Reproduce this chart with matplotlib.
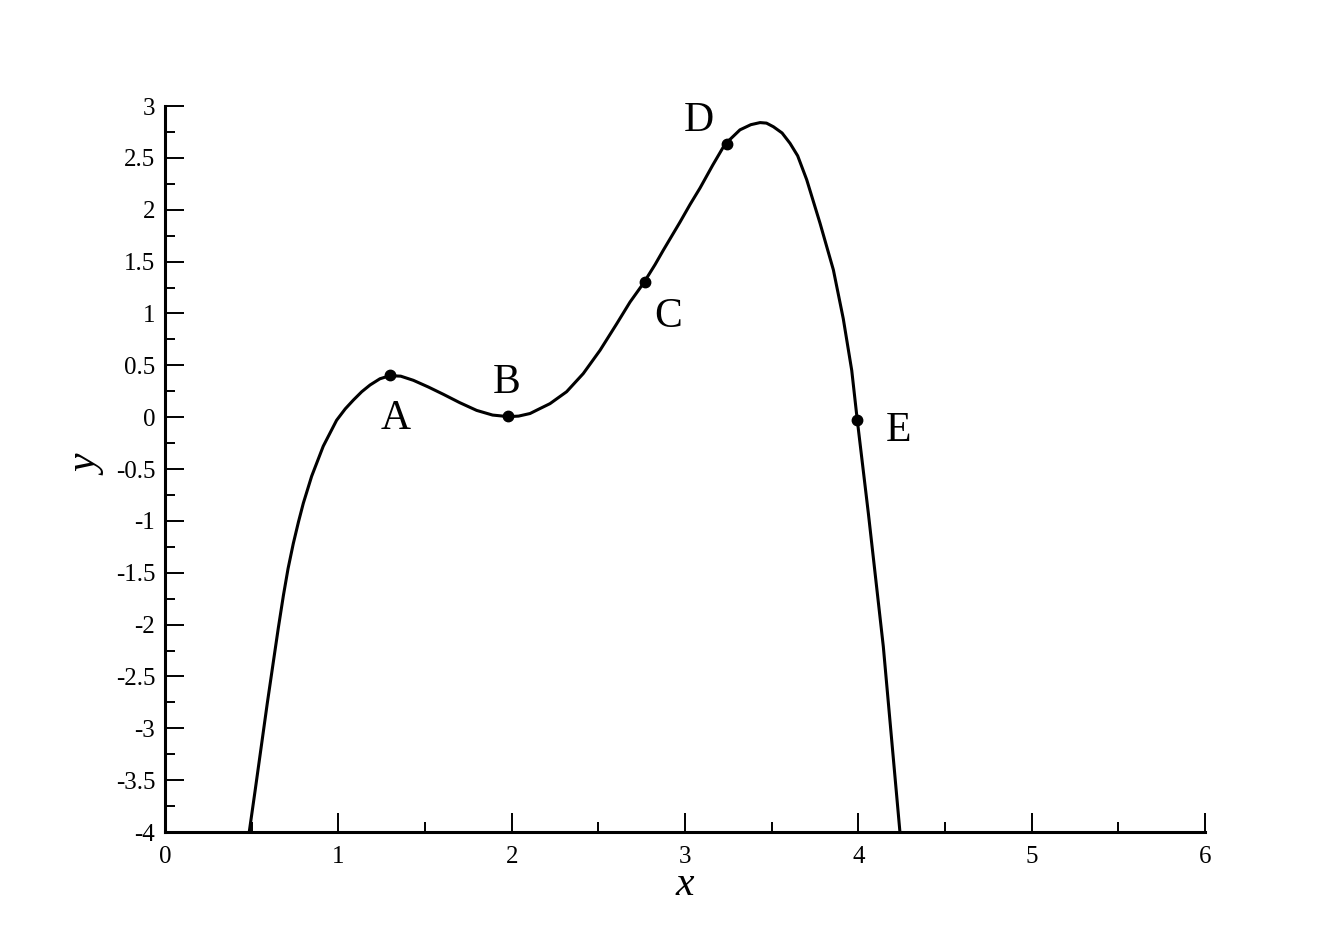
import matplotlib
matplotlib.use("Agg")
import matplotlib.pyplot as plt
from matplotlib.ticker import MultipleLocator

# Curve samples
curve_x = [0.486, 0.520, 0.555, 0.590, 0.625, 0.654, 0.683, 0.710, 0.740, 0.770,
           0.798, 0.846, 0.913, 0.990, 1.040, 1.087, 1.135, 1.183, 1.240, 1.298,
           1.360, 1.433, 1.520, 1.606, 1.700, 1.798, 1.890, 1.981, 2.040, 2.106,
           2.160, 2.221, 2.317, 2.413, 2.510, 2.606, 2.683, 2.760, 2.827, 2.875,
           2.971, 3.029, 3.087, 3.160, 3.230, 3.317, 3.380, 3.433, 3.470, 3.510,
           3.560, 3.606, 3.650, 3.702, 3.779, 3.856, 3.913, 3.962, 3.994, 4.058,
           4.144, 4.240]
curve_y = [-4.00, -3.60, -3.18, -2.76, -2.36, -2.03, -1.72, -1.46, -1.22, -1.01,
           -0.83, -0.57, -0.28, -0.03, 0.08, 0.165, 0.245, 0.31, 0.37, 0.40,
           0.395, 0.355, 0.29, 0.22, 0.14, 0.065, 0.02, 0.005, 0.01, 0.035,
           0.08, 0.13, 0.245, 0.42, 0.645, 0.90, 1.11, 1.29, 1.47, 1.61,
           1.88, 2.05, 2.21, 2.43, 2.63, 2.77, 2.82, 2.84, 2.835, 2.80,
           2.74, 2.64, 2.52, 2.29, 1.87, 1.42, 0.95, 0.45, -0.03, -0.93,
           -2.21, -4.00]

point_names = ["A", "B", "C", "D", "E"]
point_x = [1.30, 1.98, 2.77, 3.24, 3.99]
point_y = [0.41, 0.01, 1.30, 2.63, -0.03]
label_x = [1.33, 1.97, 2.90, 3.08, 4.23]
label_y = [-0.02, 0.33, 0.97, 2.86, -0.13]

x_ticks = [0, 1, 2, 3, 4, 5, 6]
y_ticks = [-4, -3.5, -3, -2.5, -2, -1.5, -1, -0.5, 0, 0.5, 1, 1.5, 2, 2.5, 3]

plt.rcParams['font.family'] = ['Liberation Serif', 'DejaVu Serif']

fig = plt.figure(figsize=(13.32, 9.38), dpi=100)
ax = fig.add_axes([165/1332, 1 - 832/938, 1040/1332, 726/938])

ax.plot(curve_x, curve_y, color='black', lw=2.2, solid_joinstyle='round',
        solid_capstyle='butt')
ax.plot(point_x, point_y, 'o', color='black', markersize=7.5, zorder=3)
for n, lx, ly in zip(point_names, label_x, label_y):
    ax.text(lx, ly, n, fontsize=30, ha='center', va='center')

ax.set_xlim(0, 6)
ax.set_ylim(-4, 3)
ax.set_xticks(x_ticks)
ax.set_yticks(y_ticks)
ax.set_xticklabels([str(v) for v in x_ticks])
ax.set_yticklabels([("%g" % v) for v in y_ticks])
ax.xaxis.set_minor_locator(MultipleLocator(0.5))
ax.yaxis.set_minor_locator(MultipleLocator(0.25))

for s in ['top', 'right']:
    ax.spines[s].set_visible(False)
for s in ['left', 'bottom']:
    ax.spines[s].set_linewidth(2.2)

ax.tick_params(which='major', direction='in', length=14, width=1.4, labelsize=18, color='black')
ax.tick_params(which='minor', direction='in', length=7, width=1.4)
ax.tick_params(axis='x', which='major', pad=10)
ax.tick_params(axis='y', which='major', pad=7)

ax.set_xlabel('x', fontsize=30, style='italic')
ax.set_ylabel('y', fontsize=30, style='italic')
ax.xaxis.set_label_coords(0.5, -0.073)
ax.yaxis.set_label_coords(-0.074, 0.505)
ax.xaxis.label.set_va('center')
ax.yaxis.label.set_va('center')

fig.savefig('out.png', dpi=100)
